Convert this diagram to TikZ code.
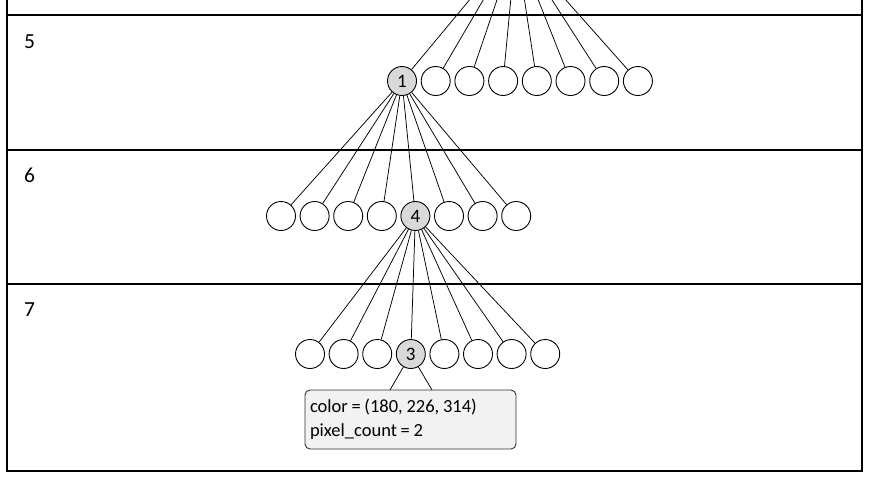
\documentclass[tikz,border=0pt]{standalone}
\usepackage{fontspec}
\setmainfont{Carlito}
\usetikzlibrary{calc}
\definecolor{nodegray}{HTML}{D9D9D9}
\definecolor{boxfill}{HTML}{F2F2F2}
\definecolor{boxline}{HTML}{303030}
\tikzset{
  framel/.style={line width=1.2pt, black},
  edge/.style={line width=0.75pt, black},
  leaf/.style={circle, draw=black, line width=0.9pt, fill=white, minimum size=29pt, inner sep=0pt, font=\fontsize{19}{22}\selectfont},
  hit/.style={leaf, fill=nodegray},
  rowlabel/.style={anchor=west, inner sep=0pt, font=\fontsize{21.5}{24}\selectfont},
  infobox/.style={draw=boxline, fill=boxfill, line width=0.9pt, rounded corners=5pt, text width=201pt, minimum height=59pt, inner xsep=5pt, align=left, font=\fontsize{18.5}{24}\selectfont},
}
\begin{document}
\begin{tikzpicture}[x=1pt,y=-1pt]
\useasboundingbox (0,0) rectangle (873,480);
\clip (0,0) rectangle (873,480);
% frame
\draw[framel] (7,0) -- (7,471) -- (862,471) -- (862,0);
\draw[framel] (7,15) -- (862,15);
\draw[framel] (7,150) -- (862,150);
\draw[framel] (7,284) -- (862,284);
\node[rowlabel] (l5) at (24,41.5) {5};
\node[rowlabel] (l6) at (24,175.5) {6};
\node[rowlabel] (l7) at (24,309.5) {7};
% parent above the picture
\coordinate (p4) at (516,-56);
% row 5
\foreach \i in {1,...,8} {
  \pgfmathsetmacro{\xx}{402+33.7*(\i-1)}
  \ifnum\i=1
    \node[hit] (a\i) at (\xx,81) {1};
  \else
    \node[leaf] (a\i) at (\xx,81) {};
  \fi
}
% row 6
\foreach \i in {1,...,8} {
  \pgfmathsetmacro{\xx}{281+33.6*(\i-1)}
  \ifnum\i=5
    \node[hit] (b\i) at (\xx,216) {4};
  \else
    \node[leaf] (b\i) at (\xx,216) {};
  \fi
}
% row 7
\foreach \i in {1,...,8} {
  \pgfmathsetmacro{\xx}{310+33.6*(\i-1)}
  \ifnum\i=4
    \node[hit] (c\i) at (\xx,354) {3};
  \else
    \node[leaf] (c\i) at (\xx,354) {};
  \fi
}
% edges
\foreach \i in {1,...,8} {
  \draw[edge] (p4) -- (a\i);
  \draw[edge] (a1) -- (b\i);
  \draw[edge] (b5) -- (c\i);
}
% info box
\node[infobox] (info) at (410.5,419.5) {\spaceskip=0.2em\relax color = (180, 226, 314)\\pixel\_count = 2};
\coordinate (bl) at (390,390);
\coordinate (br) at (432,390);
\draw[edge] (c4) -- (bl);
\draw[edge] (c4) -- (br);
\end{tikzpicture}
\end{document}
